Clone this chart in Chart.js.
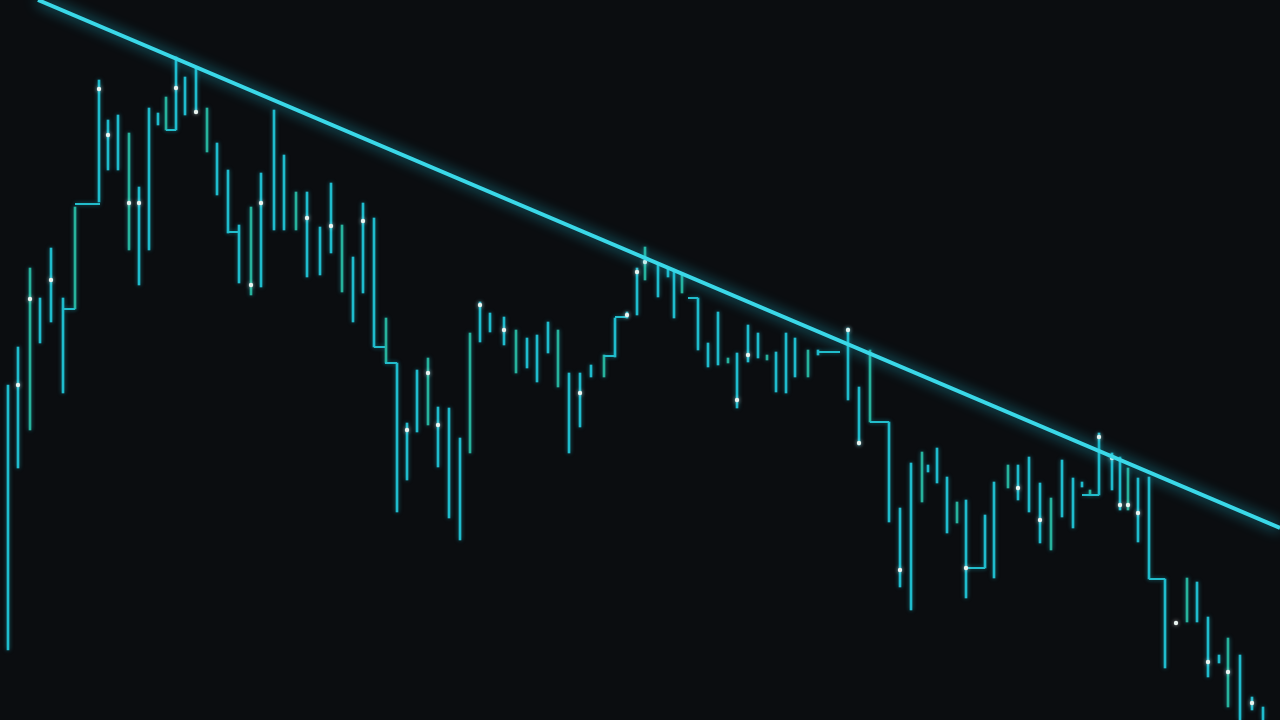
<!DOCTYPE html>
<html>
<head>
<meta charset="utf-8">
<title>Downtrend</title>
<script src="https://cdn.jsdelivr.net/npm/chart.js@4.4.1/dist/chart.umd.min.js"></script>
<style>
    html, body { margin: 0; padding: 0; background: #0b0d10; }
    #wrap { width: 1280px; height: 720px; position: relative; }
</style>
</head>
<body>
<div id="wrap"><canvas id="priceChart"></canvas></div>
<script>
// Bars: time position, high level, low level (screen-level units, top = 0)
const barX = [8, 18, 30, 40, 51, 63, 75, 99, 108, 118, 129, 139, 149, 158, 166, 176, 185, 196, 207, 217,
    228, 239, 251, 261, 274, 284, 296, 307, 320, 331, 342, 353, 363, 374, 386, 397, 407, 417, 428, 438,
    449, 460, 470, 480, 490, 504, 516, 527, 537, 548, 558, 569, 580, 591, 604, 615, 627, 637, 645, 658,
    668, 674, 682, 698, 708, 718, 728, 737, 748, 758, 767, 776, 786, 795, 808, 818, 848, 859, 870, 889,
    900, 911, 922, 928, 937, 947, 957, 966, 985, 994, 1008, 1018, 1029, 1040, 1051, 1062, 1073, 1082, 1090, 1099,
    1112, 1120, 1128, 1138, 1149, 1165, 1187, 1197, 1208, 1219, 1228, 1240, 1252, 1263];
const barHigh = [385, 347, 268, 298, 248, 298, 207, 80, 120, 115, 133, 187, 108, 113, 97, 57, 77, 68, 108, 143,
    170, 225, 207, 173, 110, 155, 192, 192, 227, 183, 225, 257, 203, 218, 318, 363, 423, 370, 358, 407,
    408, 438, 333, 302, 313, 317, 330, 338, 335, 322, 330, 373, 373, 365, 355, 318, 312, 268, 247, 265,
    268, 270, 273, 298, 343, 312, 358, 353, 325, 333, 355, 352, 333, 338, 350, 350, 328, 387, 350, 422,
    508, 463, 452, 465, 448, 477, 502, 500, 515, 482, 465, 465, 457, 483, 498, 460, 478, 482, 490, 433,
    453, 457, 468, 478, 477, 579, 578, 582, 617, 655, 638, 655, 697, 707];
const barLow = [650, 468, 430, 343, 322, 393, 309, 202, 170, 170, 250, 285, 250, 125, 130, 130, 115, 112, 152, 195,
    233, 283, 295, 287, 230, 230, 230, 277, 275, 253, 292, 322, 293, 347, 363, 512, 480, 432, 425, 467,
    518, 540, 453, 342, 332, 345, 373, 368, 382, 353, 387, 453, 427, 377, 377, 357, 318, 315, 280, 297,
    277, 318, 293, 350, 367, 365, 363, 408, 362, 358, 360, 392, 393, 377, 377, 355, 400, 445, 422, 522,
    587, 610, 502, 472, 483, 533, 523, 598, 568, 578, 488, 500, 512, 543, 550, 517, 528, 487, 495, 495,
    490, 510, 510, 542, 579, 668, 622, 622, 677, 663, 707, 720, 710, 720];

// Horizontal steps joining neighbouring bars: from, to, level
const stepFrom  = [63, 75, 166, 228, 374, 385, 604, 615, 688, 818, 870, 966, 1082, 1149];
const stepTo    = [75, 100, 176, 238, 385, 397, 615, 627, 698, 840, 889, 985, 1099, 1165];
const stepLevel = [309, 204, 130, 232, 347, 363, 356, 317, 298, 352, 422, 568, 495, 579];

// Pale close markers
const markX = [18, 30, 51, 99, 108, 129, 139, 176, 196, 251, 261, 307, 331, 363, 407, 428, 438, 480, 504, 580,
    627, 637, 645, 737, 748, 848, 859, 900, 966, 1018, 1040, 1099, 1112, 1120, 1128, 1138, 1176, 1208, 1228, 1252];
const markY = [385, 299, 280, 89, 135, 203, 203, 88, 112, 285, 203, 218, 226, 221, 430, 373, 425, 305, 330, 393,
    315, 272, 262, 400, 355, 330, 443, 570, 568, 488, 520, 437, 458, 505, 505, 513, 623, 662, 672, 703];

// Resistance trend line end points
const trendX = [38, 1280];
const trendY = [0, 528];

const stepData = [];
stepFrom.forEach(function (x, i) {
    stepData.push({ x: x, y: stepLevel[i] }, { x: stepTo[i], y: stepLevel[i] }, { x: x, y: null });
});

const glowPlugin = {
    id: 'glow',
    beforeDatasetDraw: function (chart, args) {
        const ds = chart.data.datasets[args.index];
        if (ds.glowColor) {
            chart.ctx.save();
            chart.ctx.shadowColor = ds.glowColor;
            chart.ctx.shadowBlur = ds.glowBlur;
        }
    },
    afterDatasetDraw: function (chart, args) {
        const ds = chart.data.datasets[args.index];
        if (ds.glowColor) chart.ctx.restore();
    }
};

new Chart(document.getElementById('priceChart'), {
    data: {
        datasets: [
            {
                type: 'line',
                label: 'Trend',
                data: trendX.map(function (x, i) { return { x: x, y: trendY[i] }; }),
                borderColor: '#3ad8e8',
                borderWidth: 4,
                pointRadius: 0,
                glowColor: 'rgba(30, 200, 225, 0.9)',
                glowBlur: 14,
                order: 0
            },
            {
                type: 'line',
                label: 'Steps',
                data: stepData,
                borderColor: '#22bccb',
                borderWidth: 2,
                pointRadius: 0,
                spanGaps: false,
                glowColor: 'rgba(30, 190, 210, 0.5)',
                glowBlur: 4,
                order: 2
            },
            {
                type: 'bar',
                label: 'Range',
                data: barX.map(function (x, i) { return { x: x, y: [barLow[i], barHigh[i]] }; }),
                backgroundColor: function (ctx) {
                    return ctx.dataIndex % 4 === 2 ? '#27b39c' : '#1fbccd';
                },
                borderWidth: 0,
                barThickness: 2,
                glowColor: 'rgba(30, 190, 210, 0.5)',
                glowBlur: 4,
                order: 3
            },
            {
                type: 'scatter',
                label: 'Close',
                data: markX.map(function (x, i) { return { x: x, y: markY[i] }; }),
                backgroundColor: '#e9f3ef',
                borderWidth: 0,
                pointRadius: 2.2,
                glowColor: 'rgba(255, 255, 255, 0.6)',
                glowBlur: 4,
                order: 1
            }
        ]
    },
    options: {
        responsive: true,
        maintainAspectRatio: false,
        animation: false,
        layout: { padding: 0, autoPadding: false },
        plugins: {
            legend: { display: false },
            tooltip: { enabled: false }
        },
        scales: {
            x: { type: 'linear', min: 0, max: 1280, display: false, offset: false },
            y: { min: 0, max: 720, reverse: true, display: false }
        }
    },
    plugins: [glowPlugin]
});
</script>
</body>
</html>
